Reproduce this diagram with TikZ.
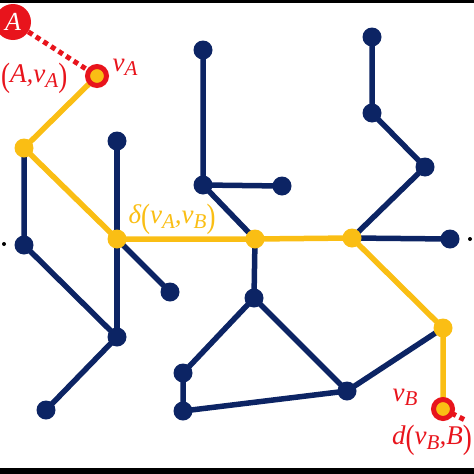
\documentclass[tikz,border=0pt]{standalone}
\usepackage{fontspec}
\setmainfont{Liberation Serif}
\usetikzlibrary{backgrounds}
\definecolor{navy}{RGB}{12,36,100}
\definecolor{gold}{RGB}{250,190,20}
\definecolor{redc}{RGB}{232,20,28}
\newcommand{\lsub}[1]{\raisebox{-0.35ex}{\scalebox{0.78}{#1}}}
\newcommand{\lpar}{\raisebox{-0.12em}{\scalebox{1}[1.25]{\textup{(}}}}
\newcommand{\rpar}{\raisebox{-0.12em}{\scalebox{1}[1.25]{\textup{)}}}}
\tikzset{
  nv/.style={circle, fill=navy, minimum size=19pt, inner sep=0pt, outer sep=0pt},
  yv/.style={circle, fill=gold, minimum size=19pt, inner sep=0pt, outer sep=0pt},
  ringv/.style={circle, fill=gold, draw=redc, line width=5pt, minimum size=19pt, inner sep=0pt, outer sep=0pt},
  dotv/.style={circle, fill=black, minimum size=4pt, inner sep=0pt},
  nedge/.style={draw=navy, line width=5.5pt},
  yedge/.style={draw=gold, line width=5.5pt},
  redot/.style={draw=redc, line width=5pt, dash pattern=on 5pt off 4pt},
  lbl/.style={font=\fontsize{27}{27}\selectfont\itshape, inner sep=0pt},
}
\begin{document}
\begin{tikzpicture}[x=1pt, y=-1pt]
\useasboundingbox (0,0) rectangle (474,474);
\fill[black] (0,0) rectangle (474,3);
\fill[black] (0,468) rectangle (474,474);

% red end nodes
\node[circle, fill=redc, minimum size=36pt, inner sep=0pt, text=white, font=\fontsize{26}{26}\selectfont\itshape] (A) at (13,22) {A};
\coordinate (Bdir) at (467,421);

% path nodes
\node[ringv] (vA) at (97,76) {};
\node[yv] (Y1) at (24,148) {};
\node[yv] (Y2) at (117,239) {};
\node[yv] (Y3) at (255,239) {};
\node[yv] (Y4) at (352,238) {};
\node[yv] (Y5) at (443,328) {};
\node[ringv] (vB) at (443,409) {};

% navy nodes
\node[nv] (N1) at (24,245) {};
\node[nv] (N2) at (117,141) {};
\node[nv] (N3) at (170,292) {};
\node[nv] (N4) at (117,337) {};
\node[nv] (N5) at (46,410) {};
\node[nv] (N6) at (203,50) {};
\node[nv] (N7) at (203,185) {};
\node[nv] (N8) at (282,186) {};
\node[nv] (N9) at (372,37) {};
\node[nv] (N10) at (372,113) {};
\node[nv] (N11) at (425,167) {};
\node[nv] (N12) at (450,239) {};
\node[nv] (N13) at (254,298) {};
\node[nv] (N14) at (183,373) {};
\node[nv] (N15) at (183,411) {};
\node[nv] (N16) at (347,391) {};

\node[dotv] (dl) at (4,244) {};
\node[dotv] (dr) at (470,239) {};

\begin{pgfonlayer}{background}
\draw[nedge] (Y1.center) -- (N1.center) -- (N4.center) -- (N5.center);
\draw[nedge] (N2.center) -- (Y2.center) -- (N4.center);
\draw[nedge] (Y2.center) -- (N3.center);
\draw[nedge] (N6.center) -- (N7.center) -- (N8.center);
\draw[nedge] (N7.center) -- (Y3.center) -- (N13.center);
\draw[nedge] (N13.center) -- (N14.center) -- (N15.center) -- (N16.center) -- (N13.center);
\draw[nedge] (N16.center) -- (Y5.center);
\draw[nedge] (Y4.center) -- (N11.center) -- (N10.center) -- (N9.center);
\draw[nedge] (Y4.center) -- (N12.center);
\draw[yedge] (vA.center) -- (Y1.center) -- (Y2.center) -- (Y3.center) -- (Y4.center) -- (Y5.center) -- (vB.center);
\draw[redot] (A) -- (vA);
\draw[redot] (vB) -- (Bdir);
\end{pgfonlayer}

% labels
\node[lbl, text=redc] (lvA) at (125,67) {v\lsub{A}};
\node[lbl, text=redc, anchor=west] (ldA) at (1,78) {\lpar A,v\lsub{A}\rpar};
\node[lbl, text=gold] (ldelta) at (172,219) {δ\lpar v\lsub{A},v\lsub{B}\rpar};
\node[lbl, text=redc] (lvB) at (405,397) {v\lsub{B}};
\node[lbl, text=redc] (ldB) at (432,440) {d\lpar v\lsub{B},B\rpar};
\end{tikzpicture}
\end{document}
